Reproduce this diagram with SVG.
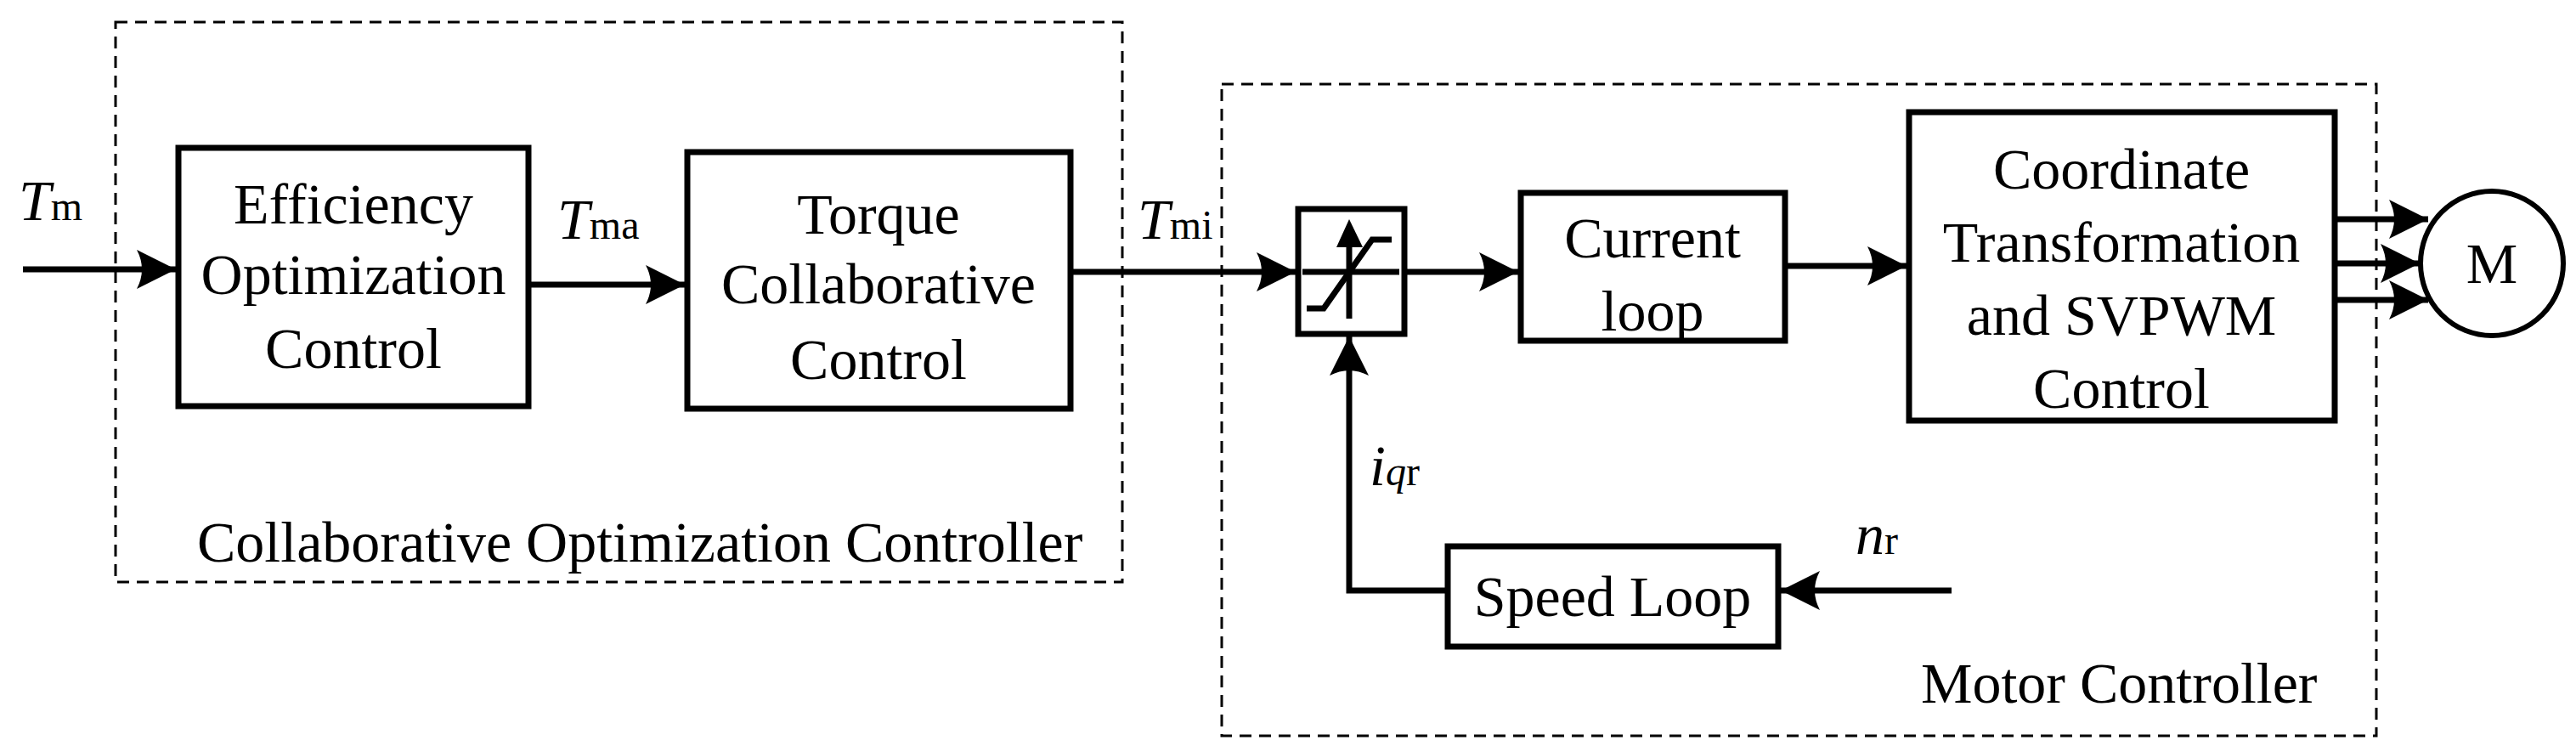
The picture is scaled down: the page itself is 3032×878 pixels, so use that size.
<svg xmlns="http://www.w3.org/2000/svg" width="3032" height="878" viewBox="0 0 3032 878">
<style>
.box{fill:#fff;stroke:#000;stroke-width:7}
.dash{fill:none;stroke:#000;stroke-width:3;stroke-dasharray:14 9}
.ln{fill:none;stroke:#000;stroke-width:7}
.t{font-family:"Liberation Serif","Times New Roman",serif;font-size:68px;fill:#000;text-anchor:middle}
.s{font-family:"Liberation Serif","Times New Roman",serif;font-size:68px;fill:#000}
.i{font-style:italic}
</style>
<defs>
<marker id="a" markerUnits="userSpaceOnUse" markerWidth="60" markerHeight="60" viewBox="-50 -30 55 60" refX="0" refY="0" orient="auto">
<path d="M0,0 L-46,-23 Q-34,0 -46,23 Z" fill="#000"/>
</marker>
</defs>
<g id="frames">
<rect class="dash" x="136" y="26" width="1185" height="659"/>
<text class="s" x="232" y="661">Collaborative Optimization Controller</text>
<rect class="dash" x="1438" y="99" width="1359" height="767"/>
<text class="s" x="2261" y="827">Motor Controller</text>
</g>
<g id="connectors">
<line class="ln" x1="27" y1="317" x2="207" y2="317" marker-end="url(#a)"/>
<line class="ln" x1="622" y1="335" x2="806" y2="335" marker-end="url(#a)"/>
<line class="ln" x1="1260" y1="320" x2="1525" y2="320" marker-end="url(#a)"/>
<line class="ln" x1="1653" y1="320" x2="1787" y2="320" marker-end="url(#a)"/>
<line class="ln" x1="2101" y1="313" x2="2244" y2="313" marker-end="url(#a)"/>
<line class="ln" x1="2748" y1="258" x2="2858" y2="258" marker-end="url(#a)"/>
<line class="ln" x1="2748" y1="310" x2="2848" y2="310" marker-end="url(#a)"/>
<line class="ln" x1="2748" y1="353" x2="2858" y2="353" marker-end="url(#a)"/>
<line class="ln" x1="2297" y1="695" x2="2096" y2="695" marker-end="url(#a)"/>
<polyline class="ln" points="1704,695 1588,695 1588,396" marker-end="url(#a)"/>
</g>
<g id="labels">
<text class="s" x="22" y="259"><tspan class="i">T</tspan><tspan font-size="48" dy="0">m</tspan></text>
<text class="s" x="656" y="281"><tspan class="i">T</tspan><tspan font-size="48">ma</tspan></text>
<text class="s" x="1339" y="281"><tspan class="i">T</tspan><tspan font-size="48">mi</tspan></text>
<text class="s" x="1612" y="571"><tspan class="i">i</tspan><tspan font-size="48"><tspan class="i">q</tspan>r</tspan></text>
<text class="s" x="2184" y="652"><tspan class="i">n</tspan><tspan font-size="48">r</tspan></text>
</g>
<g id="efficiency">
<rect class="box" x="210" y="174" width="412" height="304"/>
<text class="t" x="416" y="263">Efficiency</text>
<text class="t" x="416" y="346">Optimization</text>
<text class="t" x="416" y="433">Control</text>
</g>
<g id="torque">
<rect class="box" x="809" y="179" width="451" height="302"/>
<text class="t" x="1034" y="275">Torque</text>
<text class="t" x="1034" y="357">Collaborative</text>
<text class="t" x="1034" y="446">Control</text>
</g>
<g id="saturation">
<rect class="box" x="1528" y="246" width="125" height="147" stroke-width="5"/>
<line class="ln" x1="1533" y1="320" x2="1647" y2="320" stroke-width="5"/>
<line class="ln" x1="1588" y1="375" x2="1588" y2="285" stroke-width="5"/>
<path d="M1588,258 L1573,291 L1604,291 Z" fill="#000"/>
<polyline class="ln" points="1538,363 1558,363 1615,282 1638,282" stroke-width="5"/>
</g>
<g id="current">
<rect class="box" x="1790" y="227" width="311" height="174"/>
<text class="t" x="1945" y="303">Current</text>
<text class="t" x="1945" y="389">loop</text>
</g>
<g id="coord">
<rect class="box" x="2247" y="132" width="501" height="363"/>
<text class="t" x="2497" y="222">Coordinate</text>
<text class="t" x="2497" y="308">Transformation</text>
<text class="t" x="2497" y="394">and SVPWM</text>
<text class="t" x="2497" y="480">Control</text>
</g>
<g id="speed">
<rect class="box" x="1704" y="643" width="389" height="118"/>
<text class="t" x="1898" y="725">Speed Loop</text>
</g>
<g id="motor">
<ellipse cx="2933" cy="310" rx="84" ry="85" fill="#fff" stroke="#000" stroke-width="6"/>
<text class="t" x="2933" y="333">M</text>
</g>
</svg>
